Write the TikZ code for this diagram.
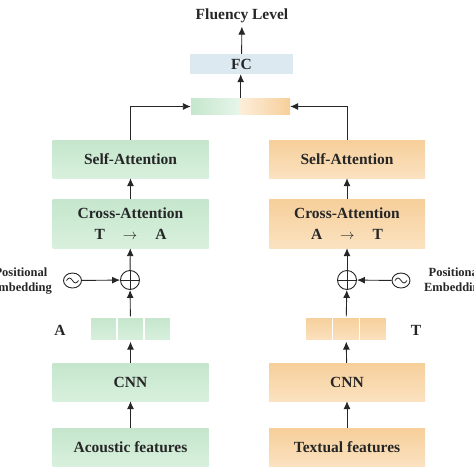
\documentclass[tikz,border=0pt]{standalone}
\usepackage{fontspec}
\setmainfont{Liberation Serif}
\usetikzlibrary{arrows.meta,shapes.geometric}

\definecolor{ink}{HTML}{262626}
\definecolor{greenA}{HTML}{C5E6CC}
\definecolor{greenB}{HTML}{D8F0DD}
\definecolor{orangeA}{HTML}{F6CF9A}
\definecolor{orangeB}{HTML}{FBE2C0}
\definecolor{fcblue}{HTML}{DCE9F0}

\tikzset{
  box/.style = {minimum width=156pt, minimum height=38pt, inner sep=0pt,
    align=center, text=ink, font=\fontsize{15.5}{21}\selectfont\bfseries},
  greenbox/.style = {box, top color=greenA, bottom color=greenB},
  orangebox/.style = {box, top color=orangeA, bottom color=orangeB},
  cell/.style = {minimum width=27pt, minimum height=24pt, inner sep=0pt,
    draw=white, line width=1.2pt},
  lbl/.style = {text=ink, font=\fontsize{15.5}{18}\selectfont\bfseries},
  pelbl/.style = {text=ink, align=center, font=\fontsize{12.5}{15}\selectfont\bfseries},
  arr/.style = {-{Latex[length=8pt,width=7pt]}, line width=0.9pt, draw=ink},
  addnode/.style = {circle, draw=ink, line width=0.9pt, minimum size=19pt, inner sep=0pt,
    path picture={\draw[ink, line width=0.9pt]
      (path picture bounding box.north) -- (path picture bounding box.south)
      (path picture bounding box.west) -- (path picture bounding box.east);}},
  sinenode/.style = {ellipse, draw=ink, line width=0.9pt, minimum width=18pt,
    minimum height=15pt, inner sep=0pt,
    path picture={\draw[ink, line width=0.8pt]
      ([xshift=-6pt]path picture bounding box.center) sin ++(3pt,2.5pt) cos ++(3pt,-2.5pt)
      sin ++(3pt,-2.5pt) cos ++(3pt,2.5pt);}}
}

\begin{document}
\begin{tikzpicture}[x=1pt, y=-1pt]
    \useasboundingbox (0,0) rectangle (474,474);

    \node[lbl] (fluency) at (242,16) {Fluency Level};
    \node[box, fill=fcblue, minimum width=103pt, minimum height=20pt] (fc) at (241.5,64) {FC};
    \node[minimum width=49.5pt, minimum height=16.5pt, inner sep=0pt,
          left color=greenA, right color=greenB!60!white] (concatL) at (215.75,106.5) {};
    \node[minimum width=49.5pt, minimum height=16.5pt, inner sep=0pt,
          left color=orangeB!60!white, right color=orangeA] (concatR) at (265.25,106.5) {};

    \node[greenbox] (saA) at (130.5,159) {Self-Attention};
    \node[greenbox, minimum height=49pt] (caA) at (130.5,223.5)
        {Cross-Attention\\T\hspace{18pt}$\rightarrow$\hspace{18pt}A};
    \node[addnode] (addA) at (130,280) {};
    \node[sinenode] (peA) at (72.5,280.5) {};
    \node[pelbl] (peAlbl) at (21,281.5) {Positional\\Embedding};
    \foreach \i/\x in {1/103.5, 2/130.5, 3/157.5}
        \node[cell, top color=greenA, bottom color=greenB] (vecA\i) at (\x,329) {};
    \node[lbl] (labelA) at (60,330) {A};
    \node[greenbox] (cnnA) at (130.5,382) {CNN};
    \node[greenbox] (featA) at (130.5,447) {Acoustic features};

    \node[orangebox] (saT) at (347,159) {Self-Attention};
    \node[orangebox, minimum height=49pt] (caT) at (347,223.5)
        {Cross-Attention\\A\hspace{18pt}$\rightarrow$\hspace{18pt}T};
    \node[addnode] (addT) at (347,280) {};
    \node[sinenode] (peT) at (401,280.5) {};
    \node[pelbl] (peTlbl) at (455,281.5) {Positional\\Embedding};
    \foreach \i/\x in {1/319, 2/346, 3/373}
        \node[cell, top color=orangeA, bottom color=orangeB] (vecT\i) at (\x,329) {};
    \node[lbl] (labelT) at (416,330) {T};
    \node[orangebox] (cnnT) at (347,382) {CNN};
    \node[orangebox] (featT) at (347,447) {Textual features};

    \draw[arr] (fc) -- (fluency);
    \draw[arr] (concatL.north east) -- (concatL.north east |- fc.south);
    \draw[arr] (saA.north) |- (concatL.west);
    \draw[arr] (saT.north) |- (concatR.east);

    \draw[arr] (caA) -- (saA);
    \draw[arr] (addA) -- (caA);
    \draw[arr] (peA) -- (addA);
    \draw[arr] (vecA2) -- (addA);
    \draw[arr] (cnnA) -- (vecA2);
    \draw[arr] (featA) -- (cnnA);

    \draw[arr] (caT) -- (saT);
    \draw[arr] (addT) -- (caT);
    \draw[arr] (peT) -- (addT);
    \draw[arr] (vecT2) -- (addT);
    \draw[arr] (cnnT) -- (vecT2);
    \draw[arr] (featT) -- (cnnT);
\end{tikzpicture}
\end{document}
